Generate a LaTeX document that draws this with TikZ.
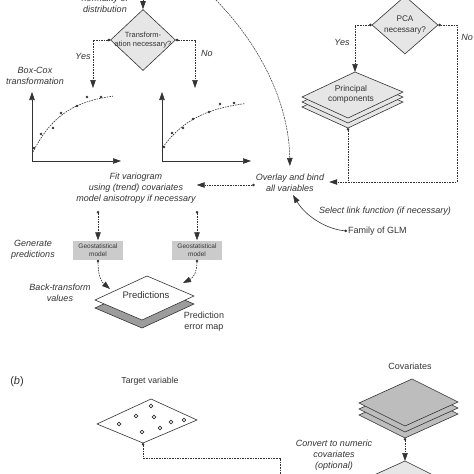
\documentclass[tikz,border=0pt]{standalone}
\usepackage{fontspec}
\setmainfont{Liberation Sans}
\usepackage{tikz}
\usetikzlibrary{arrows.meta, shapes.geometric}
\definecolor{ink}{HTML}{333333}
\definecolor{pale}{HTML}{E6E6E6}
\definecolor{boxgray}{HTML}{CBCBCB}
\definecolor{covgray}{HTML}{BDBDBD}
\definecolor{errgray}{HTML}{9C9C9C}
\tikzset{flow/.style={draw=ink, line width=0.6pt, dash pattern=on 1.6pt off 1pt, {Circle[length=2.6pt]}->}}
\tikzset{flowline/.style={draw=ink, line width=0.6pt, dash pattern=on 1.6pt off 1pt, {Circle[length=2.6pt]}-}}
\tikzset{lbl/.style={font=\fontsize{9}{11}\selectfont\itshape, text=ink, align=center, inner sep=1pt}}
\tikzset{txt/.style={font=\fontsize{9}{11}\selectfont, text=ink, align=center, inner sep=1pt}}
\tikzset{decision/.style={diamond, draw=ink, fill=pale, line width=0.6pt, inner sep=0pt}}
\tikzset{geo/.style={fill=boxgray, minimum width=50pt, minimum height=19pt, font=\fontsize{6.5}{7.5}\selectfont, text=ink, align=center, inner sep=1pt}}
\tikzset{sheet/.style={draw=ink, line width=0.6pt}}

\begin{document}
\begin{tikzpicture}[x=1pt, y=-1pt, >={Triangle[length=8pt, width=5.5pt]}]
    \useasboundingbox (0,0) rectangle (474,474);
    \clip (0,0) rectangle (474,474);

    % (a) transformation branch
    \node[lbl] (normal) at (105,4) {normality of\\distribution};
    \node[decision, minimum width=65pt, minimum height=61pt] (trans) at (143,40) {};
    \node[txt, font=\fontsize{7.5}{9}\selectfont] (transtxt) at (trans) {Transform-\\ation necessary?};
    \coordinate (transin) at (143,-12);
    \draw[ink, line width=0.6pt, ->] (transin) -- (trans.north);
    \coordinate (yesL) at (93,88);
    \coordinate (noL) at (195,88);
    \draw[flow] (trans.west) -| (yesL);
    \draw[flow] (trans.east) -| (noL);
    \node[lbl] (yes1) at (83,56) {Yes};
    \node[lbl] (no1) at (207,53) {No};
    \node[lbl] (boxcox) at (35,76) {Box-Cox\\transformation};

    % variograms
    \draw[ink, line width=0.6pt, ->] (32,161) -- (32,92);
    \draw[ink, line width=0.6pt, ->] (32,161) -- (121,161);
    \draw[ink, line width=0.6pt, ->] (162,161) -- (162,92);
    \draw[ink, line width=0.6pt, ->] (162,161) -- (251,161);
    \draw[ink, line width=0.6pt, dash pattern=on 1.6pt off 1pt, domain=33:113, samples=30, smooth]
        plot (\x, {152-60*(1-exp(-(\x-33)/30))});
    \draw[ink, line width=0.6pt, dash pattern=on 1.6pt off 1pt, domain=163:245, samples=30, smooth]
        plot (\x, {147-48*(1-exp(-(\x-163)/35))});
    \foreach \p in {(34,148),(41,134),(53,128),(61,113),(77,106),(87,97),(101,97),
                    (164,147),(172,133),(183,128),(193,119),(209,112),(220,104),(234,103)} {
        \fill[ink] \p circle [radius=1.4pt];
    }

    % (a) PCA branch
    \node[decision, minimum width=66pt, minimum height=58pt] (pca) at (405,25) {};
    \node[txt, font=\fontsize{8.2}{10.5}\selectfont] (pcatxt) at (pca) {PCA\\necessary?};
    \coordinate (pcain) at (405,-12);
    \draw[ink, line width=0.6pt] (pcain) -- (pca.north);
    \coordinate (yesR) at (355,72);
    \draw[flow] (pca.west) -| (yesR);
    \node[lbl] (yes2) at (342,42) {Yes};
    \node[lbl] (no2) at (467,37) {No};
    \foreach \o in {10,5,0} {
        \draw[sheet, fill=pale] (355,72+\o) -- (403,92+\o) -- (348,118+\o) -- (302,97+\o) -- cycle;
    }
    \node[txt, font=\fontsize{8.4}{10}\selectfont] (pc) at (351,94) {Principal\\components};

    % overlay and fit
    \node[lbl] (overlay) at (290,183) {Overlay and bind\\all variables};
    \node[lbl] (fit) at (136,188) {Fit variogram\\using (trend) covariates\\model anisotropy if necessary};
    \coordinate (noR) at (457,182);
    \coordinate (pcbot) at (348,128);
    \draw[flow] (pca.east) -| (noR) -- ([xshift=4pt]overlay.east |- noR);
    \draw[flowline] (pcbot) -- (pcbot |- noR);
    \draw[flow] ([yshift=-2pt]overlay.west) -- ([yshift=-2pt]overlay.west -| fit.east);
    \coordinate (feed) at (210,-6);
    \draw[ink, line width=0.5pt, dash pattern=on 2pt off 0.8pt, ->, shorten >=7pt]
        (feed) .. controls (262,45) and (289,105) .. (overlay.north);

    % link function
    \node[lbl] (link) at (385,211) {Select link function (if necessary)};
    \node[txt, anchor=west] (glm) at (347,231) {Family of GLM};
    \draw[ink, line width=0.6pt, {Circle[length=2.6pt]}->]
        (glm.west) .. controls (325,229) and (305,215) .. ([xshift=3pt, yshift=-2pt]overlay.south);

    % predictions
    \node[geo] (geoL) at (98,250) {Geostatistical\\model};
    \node[geo] (geoR) at (197,250) {Geostatistical\\model};
    \coordinate (fitL) at (98,211);
    \coordinate (fitR) at (197,211);
    \draw[flow] (fitL) -- (geoL.north);
    \draw[flow] (fitR) -- (geoR.north);
    \node[lbl] (gen) at (33,250) {Generate\\predictions};
    \node[lbl] (back) at (60,293) {Back-transform\\values};
    \draw[sheet, fill=errgray] (147,284) -- (194,304) -- (142,328) -- (95,308) -- cycle;
    \draw[sheet, fill=white] (147,276) -- (194,296) -- (142,320) -- (95,300) -- cycle;
    \node[txt, font=\fontsize{9.5}{11}\selectfont] (pred) at (146,295) {Predictions};
    \node[txt] (errmap) at (204,322) {Prediction\\error map};
    \coordinate (predL) at (110,289);
    \coordinate (predR) at (183,283);
    \draw[flow] (geoL.south) .. controls (98,279) and (103,283) .. (predL);
    \draw[flow] (geoR.south) .. controls (197,275) and (191,279) .. (predR);

    % (b)
    \node[txt, font=\fontsize{11}{13}\selectfont] (partb) at (17,382) {(\textit{b})};
    \node[txt, font=\fontsize{8.7}{10}\selectfont] (target) at (150,381) {Target variable};
    \draw[sheet, fill=white] (151,399) -- (197,420) -- (143,443) -- (97,424) -- cycle;
    \foreach \p in {(151,406),(136,416),(154,417),(119,424),(171,422),(184,420),(160,428),(142,432)} {
        \draw[ink, line width=0.7pt] \p circle [radius=1.8pt];
    }
    \coordinate (tgtbot) at (143,443);
    \coordinate (tgtout) at (280,490);
    \draw[flow] (tgtbot) -- ++(0,15) -| (tgtout);

    \node[txt] (cov) at (410,366) {Covariates};
    \foreach \o in {12,6,0} {
        \draw[sheet, fill=covgray] (412,379+\o) -- (458,402+\o) -- (405,426+\o) -- (359,403+\o) -- cycle;
    }
    \coordinate (covbot) at (405,438);
    \coordinate (numtop) at (405,461);
    \draw[sheet, fill=pale] (numtop) -- ++(46,23) -- ++(-53,24) -- ++(-46,-23) -- cycle;
    \draw[flow] (covbot) -- (numtop);
    \node[lbl] (convert) at (334,455) {Convert to numeric\\covariates\\(optional)};
\end{tikzpicture}
\end{document}
